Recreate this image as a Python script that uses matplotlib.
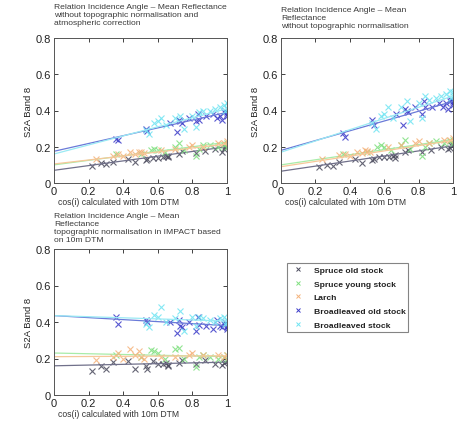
import matplotlib

matplotlib.use("Agg")
import matplotlib.pyplot as plt  # noqa: E402
from matplotlib.lines import Line2D  # noqa: E402
import numpy as np  # noqa: E402

plt.rcParams["font.family"] = ["Liberation Sans", "DejaVu Sans"]

W, H = 474, 431

species = ["Spruce old stock", "Spruce young stock", "Larch",
           "Broadleaved old stock", "Broadleaved stock"]
colors = ["#4a4a5c", "#7fe07f", "#f4b27a", "#3a3ac8", "#6ee4f2"]
line_colors = ["#70708a", "#a8eca8", "#f6c89a", "#6a7ad8", "#9aeaf4"]

titles = [
    "Relation Incidence Angle \u2013 Mean Reflectance\nwithout topographic normalisation and\natmospheric correction",
    "Relation Incidence Angle \u2013 Mean\nReflectance\nwithout topographic normalisation",
    "Relation Incidence Angle \u2013 Mean\nReflectance\ntopographic normalisation in IMPACT based\non 10m DTM",
]

# cos(i) per stand (same stands in every panel)
x_spruce_old = [0.22, 0.27, 0.30, 0.34, 0.43, 0.47, 0.53, 0.54, 0.57, 0.60, 0.63, 0.65,
                0.66, 0.66, 0.72, 0.74, 0.82, 0.87, 0.93, 0.97, 0.98, 0.99, 1.0]
x_spruce_young = [0.36, 0.50, 0.56, 0.58, 0.60, 0.64, 0.70, 0.72, 0.75, 0.82, 0.84, 0.86,
                  0.90, 0.95, 0.98, 1.0, 1.0]
x_larch = [0.24, 0.34, 0.37, 0.40, 0.44, 0.47, 0.49, 0.50, 0.52, 0.62, 0.70, 0.78, 0.80,
           0.86, 0.95, 0.98, 1.0]
x_bl_old = [0.36, 0.37, 0.53, 0.54, 0.67, 0.71, 0.72, 0.73, 0.74, 0.78, 0.82, 0.83, 0.84,
            0.88, 0.92, 0.94, 0.96, 0.97, 0.98, 0.99, 1.0, 1.0, 1.0]
x_bl = [0.53, 0.55, 0.58, 0.60, 0.62, 0.65, 0.70, 0.73, 0.75, 0.80, 0.82, 0.84, 0.86,
        0.90, 0.93, 0.96, 0.98, 0.99, 1.0, 1.0]

# panel 1: no topographic normalisation, no atmospheric correction
p1_spruce_old = [0.095, 0.11, 0.105, 0.115, 0.13, 0.115, 0.125, 0.13, 0.14, 0.14, 0.145,
                 0.15, 0.145, 0.15, 0.16, 0.175, 0.165, 0.175, 0.19, 0.17, 0.19, 0.2, 0.2]
p1_spruce_young = [0.16, 0.16, 0.18, 0.19, 0.18, 0.17, 0.2, 0.22, 0.18, 0.15, 0.19, 0.21,
                   0.21, 0.2, 0.21, 0.22, 0.2]
p1_larch = [0.13, 0.15, 0.16, 0.15, 0.17, 0.16, 0.17, 0.17, 0.165, 0.18, 0.19, 0.2, 0.21,
            0.2, 0.22, 0.22, 0.23]
p1_bl_old = [0.245, 0.235, 0.30, 0.285, 0.33, 0.28, 0.35, 0.34, 0.33, 0.36, 0.34, 0.38,
             0.35, 0.37, 0.38, 0.36, 0.37, 0.35, 0.39, 0.40, 0.37, 0.39, 0.38]
p1_bl = [0.29, 0.27, 0.33, 0.34, 0.36, 0.32, 0.36, 0.37, 0.30, 0.37, 0.31, 0.39, 0.40,
         0.40, 0.41, 0.42, 0.43, 0.40, 0.44, 0.41]

# panel 2: no topographic normalisation
p2_spruce_old = [0.09, 0.10, 0.095, 0.115, 0.13, 0.11, 0.125, 0.13, 0.145, 0.145, 0.145,
                 0.15, 0.14, 0.155, 0.17, 0.18, 0.17, 0.18, 0.2, 0.185, 0.195, 0.21, 0.21]
p2_spruce_young = [0.16, 0.17, 0.2, 0.21, 0.2, 0.18, 0.21, 0.24, 0.19, 0.15, 0.2, 0.22,
                   0.23, 0.22, 0.23, 0.24, 0.22]
p2_larch = [0.13, 0.155, 0.16, 0.15, 0.17, 0.165, 0.18, 0.175, 0.17, 0.2, 0.21, 0.22,
            0.23, 0.22, 0.24, 0.24, 0.25]
p2_bl_old = [0.275, 0.255, 0.35, 0.32, 0.38, 0.32, 0.41, 0.40, 0.39, 0.42, 0.38, 0.45,
             0.42, 0.42, 0.44, 0.42, 0.44, 0.41, 0.45, 0.46, 0.43, 0.45, 0.44]
p2_bl = [0.33, 0.30, 0.37, 0.38, 0.42, 0.36, 0.42, 0.45, 0.34, 0.44, 0.36, 0.48, 0.46,
         0.47, 0.48, 0.49, 0.51, 0.47, 0.50, 0.48]

# panel 3: topographic normalisation in IMPACT
p3_spruce_old = [0.13, 0.16, 0.145, 0.18, 0.185, 0.145, 0.16, 0.145, 0.185, 0.17, 0.17,
                 0.175, 0.165, 0.16, 0.175, 0.19, 0.17, 0.19, 0.17, 0.165, 0.175, 0.18, 0.185]
p3_spruce_young = [0.22, 0.21, 0.245, 0.24, 0.23, 0.2, 0.25, 0.26, 0.2, 0.155, 0.21, 0.22,
                   0.21, 0.2, 0.21, 0.22, 0.2]
p3_larch = [0.19, 0.21, 0.23, 0.20, 0.25, 0.22, 0.24, 0.21, 0.2, 0.21, 0.21, 0.22, 0.23,
            0.22, 0.22, 0.21, 0.22]
p3_bl_old = [0.425, 0.39, 0.41, 0.40, 0.40, 0.34, 0.41, 0.38, 0.37, 0.40, 0.35, 0.43,
             0.385, 0.38, 0.36, 0.41, 0.38, 0.37, 0.39, 0.40, 0.36, 0.38, 0.37]
p3_bl = [0.39, 0.37, 0.44, 0.43, 0.48, 0.40, 0.42, 0.46, 0.35, 0.43, 0.38, 0.43, 0.42,
         0.41, 0.40, 0.42, 0.43, 0.39, 0.41, 0.40]

# regression lines (intercept, value at cos(i)=1)
p1_fit = [(0.07, 0.20), (0.10, 0.225), (0.105, 0.215), (0.175, 0.39), (0.16, 0.41)]
p2_fit = [(0.065, 0.205), (0.10, 0.24), (0.09, 0.235), (0.18, 0.45), (0.17, 0.48)]
p3_fit = [(0.16, 0.18), (0.23, 0.21), (0.21, 0.215), (0.435, 0.38), (0.435, 0.405)]

xs = [x_spruce_old, x_spruce_young, x_larch, x_bl_old, x_bl]
panels = [
    ([p1_spruce_old, p1_spruce_young, p1_larch, p1_bl_old, p1_bl], p1_fit),
    ([p2_spruce_old, p2_spruce_young, p2_larch, p2_bl_old, p2_bl], p2_fit),
    ([p3_spruce_old, p3_spruce_young, p3_larch, p3_bl_old, p3_bl], p3_fit),
]

# axes boxes in pixels: left, top, right, bottom
boxes = [(54, 39, 227, 184), (281, 39, 453, 184), (54, 250, 227, 396)]
title_tops = [4, 7, 213]


def px_axes(fig, box):
    l, t, r, b = box
    return fig.add_axes([l / W, (H - b) / H, (r - l) / W, (b - t) / H])


fig = plt.figure(figsize=(W / 100, H / 100), dpi=100)

for (ys, fits), box, title, ttop in zip(panels, boxes, titles, title_tops):
    ax = px_axes(fig, box)
    xx = np.array([0.0, 1.0])
    for x, y, fit, c, lc in zip(xs, ys, fits, colors, line_colors):
        ax.plot(x, y, "x", color=c, ms=4.5, mew=0.8, alpha=0.85)
        ax.plot(xx, [fit[0], fit[1]], "-", color=lc, lw=0.9)
    ax.set_xlim(0, 1)
    ax.set_ylim(0, 0.8)
    ax.set_xticks([0, 0.2, 0.4, 0.6, 0.8, 1.0])
    ax.set_xticklabels(["0", "0.2", "0.4", "0.6", "0.8", "1"])
    ax.set_yticks([0, 0.2, 0.4, 0.6, 0.8])
    ax.set_yticklabels(["0", "0.2", "0.4", "0.6", "0.8"])
    ax.tick_params(direction="in", length=3, width=0.6, top=True, right=True,
                   labelsize=8, pad=2, colors="#222222")
    for s in ax.spines.values():
        s.set_color("#555555")
        s.set_linewidth(0.7)
    ax.set_ylabel("S2A Band 8", fontsize=6.8, color="#222222")
    ax.yaxis.set_label_coords(-25 / (box[2] - box[0]), 0.5)
    ax.set_xlabel("cos(i) calculated with 10m DTM", fontsize=6.2, color="#333333")
    ax.xaxis.set_label_coords(0.375, -19 / (box[3] - box[1]))
    ax.xaxis.label.set_va("center")
    ax.yaxis.label.set_va("center")
    fig.text(box[0] / W, 1 - ttop / H, title, fontsize=6.1, color="#3a3a3a",
             ha="left", va="top", linespacing=1.2)

handles = [Line2D([], [], marker="x", ls="none", color=c, ms=3, mew=0.7) for c in colors]
leg = fig.legend(handles, species, loc="upper left",
                 bbox_to_anchor=(283 / W, 1 - 260 / H), fontsize=6.1,
                 frameon=True, fancybox=False, handlelength=2.0,
                 borderpad=0.3, labelspacing=0.7, handletextpad=0.8)
leg.get_frame().set_edgecolor("#666666")
leg.get_frame().set_linewidth(0.8)
for t in leg.get_texts():
    t.set_color("#222222")
    t.set_fontweight("bold")

fig.savefig("out.png", dpi=100)
plt.close(fig)
